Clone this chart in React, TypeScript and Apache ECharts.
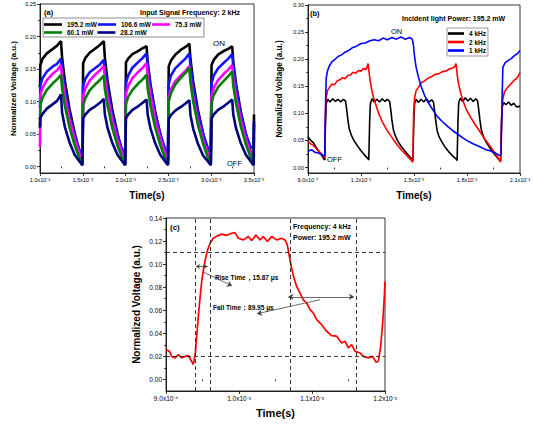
import React, { useEffect, useRef } from "react";
import * as echarts from "echarts";

const FONT = "'Liberation Sans', Arial, Helvetica, sans-serif";

// ---------------- Panel (a): input signal frequency 2 kHz (time in ms) ----------------
const timeA = [
  1.0,
  1.004, 1.03, 1.08, 1.15, 1.2, 1.245, 1.258, 1.29, 1.345, 1.405, 1.46, 1.495,
  1.504, 1.53, 1.58, 1.65, 1.7, 1.745, 1.758, 1.79, 1.845, 1.905, 1.96, 1.995,
  2.004, 2.03, 2.08, 2.15, 2.2, 2.245, 2.258, 2.29, 2.345, 2.405, 2.46, 2.495,
  2.504, 2.53, 2.58, 2.65, 2.7, 2.745, 2.758, 2.79, 2.845, 2.905, 2.96, 2.995,
  3.004, 3.03, 3.08, 3.15, 3.2, 3.245, 3.258, 3.29, 3.345, 3.405, 3.46, 3.495,
  3.5,
];
const a195 = [
  0.12,
  0.156, 0.166, 0.174, 0.181, 0.186, 0.193, 0.168, 0.132, 0.088, 0.052, 0.023, 0.004,
  0.159, 0.167, 0.175, 0.182, 0.187, 0.193, 0.167, 0.131, 0.087, 0.051, 0.022, 0.004,
  0.16, 0.166, 0.173, 0.178, 0.182, 0.185, 0.161, 0.127, 0.085, 0.05, 0.022, 0.005,
  0.154, 0.163, 0.172, 0.18, 0.184, 0.189, 0.165, 0.13, 0.087, 0.051, 0.022, 0.004,
  0.156, 0.164, 0.172, 0.178, 0.181, 0.185, 0.161, 0.127, 0.085, 0.05, 0.022, 0.005,
  0.08,
];
const a106 = [
  0.09,
  0.125, 0.136, 0.146, 0.154, 0.158, 0.166, 0.15, 0.12, 0.08, 0.048, 0.026, 0.018,
  0.124, 0.135, 0.145, 0.152, 0.157, 0.164, 0.148, 0.119, 0.079, 0.048, 0.026, 0.02,
  0.128, 0.14, 0.152, 0.161, 0.167, 0.174, 0.155, 0.123, 0.082, 0.05, 0.028, 0.022,
  0.127, 0.14, 0.151, 0.16, 0.166, 0.174, 0.155, 0.123, 0.082, 0.05, 0.029, 0.025,
  0.128, 0.14, 0.151, 0.16, 0.166, 0.173, 0.154, 0.122, 0.082, 0.05, 0.03, 0.028,
  0.065,
];
const a75 = [
  0.03,
  0.11, 0.121, 0.133, 0.143, 0.148, 0.156, 0.137, 0.108, 0.072, 0.042, 0.02, 0.008,
  0.108, 0.12, 0.132, 0.142, 0.148, 0.155, 0.136, 0.107, 0.071, 0.041, 0.02, 0.006,
  0.112, 0.124, 0.136, 0.146, 0.152, 0.159, 0.139, 0.11, 0.073, 0.043, 0.021, 0.01,
  0.106, 0.119, 0.131, 0.141, 0.147, 0.154, 0.135, 0.106, 0.071, 0.041, 0.02, 0.012,
  0.109, 0.121, 0.133, 0.143, 0.149, 0.156, 0.137, 0.108, 0.072, 0.042, 0.021, 0.004,
  0.02,
];
const a60 = [
  0.06,
  0.095, 0.106, 0.118, 0.128, 0.134, 0.141, 0.12, 0.094, 0.06, 0.033, 0.013, 0.002,
  0.094, 0.105, 0.117, 0.127, 0.133, 0.14, 0.119, 0.093, 0.059, 0.032, 0.013, 0.002,
  0.096, 0.107, 0.118, 0.128, 0.134, 0.141, 0.12, 0.094, 0.06, 0.033, 0.013, 0.003,
  0.1, 0.113, 0.126, 0.137, 0.144, 0.152, 0.129, 0.1, 0.064, 0.035, 0.014, 0.003,
  0.098, 0.11, 0.122, 0.132, 0.139, 0.146, 0.124, 0.097, 0.062, 0.034, 0.014, 0.003,
  0.045,
];
const a28 = [
  0.06,
  0.075, 0.081, 0.089, 0.096, 0.101, 0.111, 0.083, 0.061, 0.037, 0.018, 0.008, 0.002,
  0.074, 0.08, 0.087, 0.093, 0.098, 0.104, 0.08, 0.059, 0.036, 0.018, 0.008, 0.002,
  0.074, 0.08, 0.087, 0.093, 0.098, 0.103, 0.08, 0.059, 0.036, 0.018, 0.008, 0.002,
  0.073, 0.079, 0.086, 0.092, 0.097, 0.102, 0.079, 0.058, 0.035, 0.017, 0.008, 0.002,
  0.074, 0.08, 0.087, 0.093, 0.098, 0.103, 0.08, 0.059, 0.036, 0.018, 0.008, 0.002,
  0.07,
];
const namesA = ["195.2 mW", "106.6 mW", "75.3 mW", "60.1 mW", "28.2 mW"];
const valuesA = [a195, a106, a75, a60, a28];
const colorsA = ["#000000", "#1414ff", "#ff00ff", "#008000", "#000080"];

const xTicksA = [1.0, 1.5, 2.0, 2.5, 3.0, 3.5];
const xLabelsA = ["1.0x10⁻³", "1.5x10⁻³", "2.0x10⁻³", "2.5x10⁻³", "3.0x10⁻³", "3.5x10⁻³"];
const xMinorA = [1.25, 1.75, 2.25, 2.75, 3.25];
const yTicksA = [0, 0.05, 0.1, 0.15, 0.2, 0.25];
const yLabelsA = ["0.00", "0.05", "0.10", "0.15", "0.20", "0.25"];
const yMinorA = [0.025, 0.075, 0.125, 0.175, 0.225];

// ---------------- Panel (b): incident light 195.2 mW, [time ms, voltage] ----------------
const b4kHz = [
  [0.9, 0.057], [0.915, 0.05], [0.93, 0.046], [0.945, 0.038], [0.96, 0.031], [0.975, 0.024], [0.99, 0.016], [0.995, 0.014],
  [0.999, 0.085], [1.003, 0.118], [1.012, 0.126], [1.025, 0.121], [1.04, 0.127], [1.055, 0.122], [1.07, 0.126], [1.085, 0.121],
  [1.1, 0.126], [1.112, 0.123], [1.118, 0.11], [1.125, 0.09], [1.133, 0.072], [1.145, 0.06], [1.16, 0.05], [1.18, 0.04],
  [1.2, 0.031], [1.22, 0.023], [1.238, 0.017], [1.244, 0.014], [1.249, 0.085], [1.253, 0.118], [1.262, 0.127], [1.275, 0.121],
  [1.29, 0.126], [1.305, 0.121], [1.32, 0.127], [1.335, 0.122], [1.35, 0.126], [1.362, 0.122], [1.368, 0.108], [1.375, 0.088],
  [1.383, 0.07], [1.395, 0.058], [1.41, 0.048], [1.43, 0.038], [1.45, 0.03], [1.47, 0.022], [1.488, 0.016], [1.494, 0.013],
  [1.499, 0.085], [1.503, 0.118], [1.512, 0.126], [1.525, 0.12], [1.54, 0.126], [1.555, 0.121], [1.57, 0.127], [1.585, 0.121],
  [1.6, 0.125], [1.61, 0.121], [1.616, 0.106], [1.623, 0.086], [1.631, 0.068], [1.643, 0.056], [1.66, 0.046], [1.68, 0.036],
  [1.7, 0.028], [1.72, 0.021], [1.738, 0.016], [1.744, 0.013], [1.749, 0.085], [1.753, 0.12], [1.762, 0.128], [1.775, 0.122],
  [1.79, 0.129], [1.805, 0.123], [1.82, 0.128], [1.835, 0.122], [1.85, 0.127], [1.86, 0.123], [1.866, 0.108], [1.873, 0.088],
  [1.881, 0.07], [1.893, 0.057], [1.91, 0.046], [1.93, 0.036], [1.95, 0.027], [1.97, 0.019], [1.985, 0.013], [1.99, 0.012],
  [1.995, 0.08], [1.999, 0.112], [2.008, 0.12], [2.02, 0.116], [2.035, 0.121], [2.05, 0.115], [2.065, 0.119], [2.08, 0.112],
  [2.1, 0.113],
];
const b2kHz = [
  [0.9, 0.048], [0.915, 0.044], [0.93, 0.041], [0.945, 0.036], [0.96, 0.03], [0.975, 0.026], [0.99, 0.02], [0.995, 0.018],
  [0.999, 0.1], [1.003, 0.128], [1.01, 0.142], [1.02, 0.147], [1.035, 0.154], [1.05, 0.153], [1.065, 0.16], [1.08, 0.162],
  [1.095, 0.166], [1.11, 0.164], [1.125, 0.17], [1.14, 0.171], [1.155, 0.176], [1.17, 0.174], [1.185, 0.179], [1.2, 0.178],
  [1.215, 0.183], [1.23, 0.181], [1.24, 0.192], [1.246, 0.175], [1.252, 0.16], [1.26, 0.145], [1.27, 0.13], [1.285, 0.115],
  [1.3, 0.1], [1.32, 0.085], [1.345, 0.07], [1.37, 0.058], [1.4, 0.044], [1.43, 0.032], [1.46, 0.022], [1.485, 0.013],
  [1.493, 0.01], [1.498, 0.1], [1.503, 0.128], [1.512, 0.142], [1.525, 0.148], [1.54, 0.156], [1.56, 0.16], [1.58, 0.165],
  [1.6, 0.168], [1.62, 0.172], [1.64, 0.173], [1.66, 0.177], [1.68, 0.178], [1.7, 0.182], [1.715, 0.183], [1.73, 0.186],
  [1.738, 0.192], [1.745, 0.17], [1.752, 0.155], [1.76, 0.143], [1.775, 0.125], [1.795, 0.108], [1.82, 0.093], [1.845, 0.08],
  [1.87, 0.068], [1.9, 0.053], [1.93, 0.04], [1.96, 0.026], [1.982, 0.015], [1.99, 0.01], [1.996, 0.09], [2.002, 0.125],
  [2.012, 0.14], [2.03, 0.148], [2.05, 0.155], [2.07, 0.162], [2.085, 0.166], [2.1, 0.175],
];
const b1kHz = [
  [0.9, 0.03], [0.92, 0.033], [0.94, 0.028], [0.96, 0.027], [0.975, 0.024], [0.99, 0.022], [0.995, 0.024], [0.999, 0.11],
  [1.003, 0.165], [1.01, 0.178], [1.02, 0.187], [1.035, 0.195], [1.05, 0.199], [1.07, 0.205], [1.09, 0.208], [1.11, 0.213],
  [1.13, 0.216], [1.15, 0.221], [1.175, 0.224], [1.2, 0.229], [1.225, 0.23], [1.25, 0.234], [1.275, 0.236], [1.3, 0.234],
  [1.325, 0.239], [1.35, 0.236], [1.375, 0.24], [1.4, 0.237], [1.425, 0.241], [1.45, 0.237], [1.475, 0.24], [1.49, 0.237],
  [1.496, 0.228], [1.503, 0.205], [1.512, 0.185], [1.525, 0.167], [1.54, 0.15], [1.56, 0.133], [1.58, 0.12], [1.6, 0.11],
  [1.63, 0.095], [1.66, 0.085], [1.69, 0.076], [1.72, 0.068], [1.75, 0.061], [1.78, 0.054], [1.81, 0.048], [1.84, 0.043],
  [1.87, 0.039], [1.9, 0.034], [1.93, 0.031], [1.96, 0.027], [1.985, 0.022], [1.993, 0.024], [1.998, 0.12], [2.003, 0.185],
  [2.015, 0.193], [2.03, 0.197], [2.05, 0.201], [2.07, 0.207], [2.085, 0.21], [2.1, 0.216],
];
const namesB = ["4 kHz", "2 kHz", "1 kHz"];
const colorsB = ["#000000", "#ff0000", "#0000ff"];

const xTicksB = [0.9, 1.2, 1.5, 1.8, 2.1];
const xLabelsB = ["9.0x10⁻⁴", "1.2x10⁻³", "1.5x10⁻³", "1.8x10⁻³", "2.1x10⁻³"];
const xMinorB = [1.05, 1.35, 1.65, 1.95];
const yTicksB = [0, 0.05, 0.1, 0.15, 0.2, 0.25, 0.3];
const yLabelsB = ["0.00", "0.05", "0.10", "0.15", "0.20", "0.25", "0.30"];
const yMinorB = [0.025, 0.075, 0.125, 0.175, 0.225, 0.275];

// ---------------- Panel (c): 4 kHz, 195.2 mW ----------------
const timeC = [
  0.9, 0.9046, 0.9078, 0.9123, 0.917, 0.9215, 0.926, 0.9306, 0.9342, 0.9374, 0.9402, 0.942, 0.9443, 0.9466, 0.9489,
  0.952, 0.9548, 0.957, 0.9603, 0.9648, 0.9703, 0.9763, 0.9831, 0.99, 0.9945, 0.9991, 1.006, 1.0128, 1.0174, 1.0233,
  1.0288, 1.0333, 1.0388, 1.0447, 1.0516, 1.0584, 1.063, 1.0662, 1.069, 1.0721, 1.0753, 1.079, 1.0836, 1.0881, 1.0927,
  1.0973, 1.1018, 1.1064, 1.1132, 1.1201, 1.1269, 1.1338, 1.1406, 1.1452, 1.1498, 1.1543, 1.1589, 1.1658, 1.1703,
  1.1772, 1.1831, 1.1877, 1.1909, 1.1941, 1.1968, 1.1991, 1.2,
];
const valC = [
  0.026, 0.0245, 0.02, 0.0187, 0.0216, 0.0187, 0.02, 0.0207, 0.0167, 0.013, 0.023, 0.0375, 0.0547, 0.0706, 0.085,
  0.098, 0.1066, 0.1124, 0.118, 0.1224, 0.1245, 0.126, 0.125, 0.1268, 0.1273, 0.1224, 0.121, 0.1239, 0.1204, 0.1253,
  0.121, 0.1239, 0.1196, 0.1239, 0.121, 0.1224, 0.121, 0.1167, 0.1066, 0.0965, 0.0879, 0.0807, 0.0749, 0.0691, 0.0663,
  0.0605, 0.0576, 0.0519, 0.0475, 0.0418, 0.038, 0.0375, 0.0317, 0.0331, 0.0274, 0.0303, 0.0245, 0.023, 0.02,
  0.0187, 0.02, 0.015, 0.0158, 0.0288, 0.049, 0.072, 0.085,
];
// rise: 10%-90% marks, fall: 90%-10% marks (time ms), level lines
const riseMarks = [0.941, 0.957];
const fallMarks = [1.0675, 1.1575];
const levelMarks = [0.0242, 0.109];

const xTicksC = [0.9, 1.0, 1.1, 1.2];
const xLabelsC = ["9.0x10⁻⁴", "1.0x10⁻³", "1.1x10⁻³", "1.2x10⁻³"];
const xMinorC = [0.95, 1.05, 1.15];
const yTicksC = [0, 0.02, 0.04, 0.06, 0.08, 0.1, 0.12, 0.14];
const yLabelsC = ["0.00", "0.02", "0.04", "0.06", "0.08", "0.10", "0.12", "0.14"];
const yMinorC = [0.01, 0.03, 0.05, 0.07, 0.09, 0.11, 0.13];

// ---------------- helpers ----------------
const pick = (ticks: number[], labels: string[]) => (v: number) => {
  const i = ticks.findIndex((t) => Math.abs(t - v) < 1e-6);
  return i < 0 ? "" : labels[i];
};
const AX = { color: "#000", width: 0.8 };

function mainX(g: number, min: number, max: number, ticks: number[], labels: string[], fs: number, nameFs: number, gap: number) {
  return {
    type: "value", gridIndex: g, min, max, position: "bottom",
    axisLine: { show: true, onZero: false, lineStyle: AX },
    axisTick: { show: true, customValues: ticks, length: 3, lineStyle: AX },
    axisLabel: { show: true, customValues: ticks, formatter: pick(ticks, labels), fontSize: fs, color: "#000", fontFamily: FONT, margin: 4 },
    splitLine: { show: false },
    name: "Time(s)", nameLocation: "middle", nameGap: gap,
    nameTextStyle: { fontWeight: "bold", fontSize: nameFs, color: "#000", fontFamily: FONT },
  };
}
function minorX(g: number, min: number, max: number, minors: number[]) {
  return {
    type: "value", gridIndex: g, min, max, position: "bottom",
    axisLine: { show: false },
    axisTick: { show: true, customValues: minors, length: 1.8, lineStyle: AX },
    axisLabel: { show: false },
    splitLine: { show: false },
  };
}
function mainY(g: number, max: number, ticks: number[], labels: string[], fs: number, nameFs: number, gap: number) {
  return {
    type: "value", gridIndex: g, min: -0.01, max, position: "left",
    axisLine: { show: true, onZero: false, lineStyle: AX },
    axisTick: { show: true, customValues: ticks, length: 3, lineStyle: AX },
    axisLabel: { show: true, customValues: ticks, formatter: pick(ticks, labels), fontSize: fs, color: "#000", fontFamily: FONT, margin: 4 },
    splitLine: { show: false },
    name: "Normalized Voltage (a.u.)", nameLocation: "middle", nameGap: gap,
    nameTextStyle: { fontWeight: "bold", fontSize: nameFs, color: "#000", fontFamily: FONT },
  };
}
function minorY(g: number, max: number, minors: number[]) {
  return {
    type: "value", gridIndex: g, min: -0.01, max, position: "left",
    axisLine: { show: false },
    axisTick: { show: true, customValues: minors, length: 1.8, lineStyle: AX },
    axisLabel: { show: false },
    splitLine: { show: false },
  };
}
const txt = (x: number, y: number, text: string, size: number, bold: boolean) => ({
  type: "text", x, y, silent: true,
  style: { text, fontSize: size, fontWeight: bold ? "bold" : "normal", fontFamily: FONT, fill: "#000", align: "left", verticalAlign: "middle" },
});

const gridStyle = { show: true, borderColor: "#000", borderWidth: 0.8, backgroundColor: "transparent", containLabel: false, outerBoundsMode: "none" };

export default function App() {
  const ref = useRef<HTMLDivElement>(null);
  useEffect(() => {
    if (!ref.current) return;
    const chart = echarts.init(ref.current, null, { renderer: "svg" });

    const seriesA = namesA.map((name, i) => ({
      name, type: "line", xAxisIndex: 0, yAxisIndex: 0, showSymbol: false, symbol: "none",
      data: timeA.map((t, k) => [t, valuesA[i][k]]),
      lineStyle: { color: colorsA[i], width: 2.6 }, itemStyle: { color: colorsA[i] },
    }));
    const seriesB = [b4kHz, b2kHz, b1kHz].map((d, i) => ({
      name: namesB[i], type: "line", xAxisIndex: 2, yAxisIndex: 2, showSymbol: false, symbol: "none",
      data: d, lineStyle: { color: colorsB[i], width: 1.6 }, itemStyle: { color: colorsB[i] },
    }));
    const dash = { color: "#222", width: 0.9, type: [4, 3] };
    const arrowStyle = { color: "#444", width: 0.8, type: "solid" };
    const seriesC = {
      name: "4 kHz (c)", type: "line", xAxisIndex: 4, yAxisIndex: 4, showSymbol: false, symbol: "none",
      data: timeC.map((t, k) => [t, valC[k]]),
      lineStyle: { color: "#ff0000", width: 1.7 }, itemStyle: { color: "#ff0000" },
      markLine: {
        silent: true, symbol: ["none", "none"], label: { show: false }, animation: false,
        lineStyle: dash,
        data: [
          ...riseMarks.map((x) => ({ xAxis: x, lineStyle: dash })),
          ...fallMarks.map((x) => ({ xAxis: x, lineStyle: dash })),
          ...levelMarks.map((y) => ({ yAxis: y, lineStyle: dash })),
          [
            { coord: [riseMarks[0], 0.098], symbol: "arrow", symbolSize: 4, lineStyle: arrowStyle },
            { coord: [riseMarks[1], 0.098], symbol: "arrow", symbolSize: 4 },
          ],
          [
            { coord: [fallMarks[0], 0.0717], symbol: "arrow", symbolSize: 5, lineStyle: arrowStyle },
            { coord: [fallMarks[1], 0.0717], symbol: "arrow", symbolSize: 5 },
          ],
          [
            { coord: [0.9507, 0.0933], symbol: "none", lineStyle: { ...arrowStyle, curveness: -0.4 } },
            { coord: [0.9904, 0.0812], symbol: "arrow", symbolSize: 5 },
          ],
          [
            { coord: [1.111, 0.0691], symbol: "none", lineStyle: { ...arrowStyle, curveness: 0.3 } },
            { coord: [1.0247, 0.057], symbol: "arrow", symbolSize: 5 },
          ],
        ],
      },
    };

    const legendCommon = {
      orient: "horizontal", icon: "rect", itemWidth: 18, itemHeight: 2.6, padding: 0,
      textStyle: { fontSize: 6.5, fontWeight: "bold", color: "#000", fontFamily: FONT },
      selectedMode: false,
    };

    chart.setOption({
      animation: false,
      backgroundColor: "#ffffff",
      grid: [
        { left: 40, top: 4, width: 214, height: 169, ...gridStyle },
        { left: 308, top: 5, width: 212, height: 168, ...gridStyle },
        { left: 166, top: 218, width: 219, height: 173, ...gridStyle },
      ],
      xAxis: [
        mainX(0, 1.0, 3.5, xTicksA, xLabelsA, 5.5, 10, 17),
        minorX(0, 1.0, 3.5, xMinorA),
        mainX(1, 0.9, 2.1, xTicksB, xLabelsB, 5.5, 10, 17),
        minorX(1, 0.9, 2.1, xMinorB),
        mainX(2, 0.9, 1.2, xTicksC, xLabelsC, 6.5, 11, 16),
        minorX(2, 0.9, 1.2, xMinorC),
      ],
      yAxis: [
        mainY(0, 0.25, yTicksA, yLabelsA, 5.5, 8, 23),
        minorY(0, 0.25, yMinorA),
        mainY(1, 0.3, yTicksB, yLabelsB, 5.5, 8.2, 25),
        minorY(1, 0.3, yMinorB),
        mainY(2, 0.14, yTicksC, yLabelsC, 6.5, 10, 25),
        minorY(2, 0.14, yMinorC),
      ],
      legend: [
        { ...legendCommon, data: namesA.slice(0, 3), left: 44, top: 21, itemGap: 1 },
        { ...legendCommon, data: namesA.slice(3), left: 44, top: 29, itemGap: 4 },
        {
          ...legendCommon, orient: "vertical", data: namesB, left: 447, top: 28, itemWidth: 16, itemGap: 1.5,
          padding: [2, 2, 2, 1], borderColor: "#555", borderWidth: 0.6,
        },
      ],
      graphic: [
        { type: "rect", silent: true, shape: { x: 43, y: 18, width: 161, height: 19 }, style: { fill: "none", stroke: "#444", lineWidth: 0.6 } },
        txt(44, 12, "(a)", 7.5, true),
        txt(140, 12, "Input Signal Frequency: 2 kHz", 7, true),
        txt(213, 43, "ON", 8, false),
        txt(227, 163, "OFF", 7.5, false),
        txt(310, 13, "(b)", 7.5, true),
        txt(402, 18, "Incident light Power: 195.2 mW", 7, true),
        txt(391, 31, "ON", 7.5, false),
        txt(327, 159, "OFF", 7.5, false),
        txt(170, 227, "(c)", 8, true),
        txt(293, 226, "Frequency: 4 kHz", 7, true),
        txt(293, 237, "Power: 195.2 mW", 7, true),
        txt(215, 277, "Rise Time，15.87 μs", 6.5, true),
        txt(213, 307, "Fall Time：89.95 μs", 6.5, true),
      ],
      series: [...seriesA, ...seriesB, seriesC],
    });
    return () => chart.dispose();
  }, []);
  return (
    <div
      ref={ref}
      style={{ position: "fixed", left: 0, top: 0, width: 533, height: 424, background: "#fff" }}
    />
  );
}
